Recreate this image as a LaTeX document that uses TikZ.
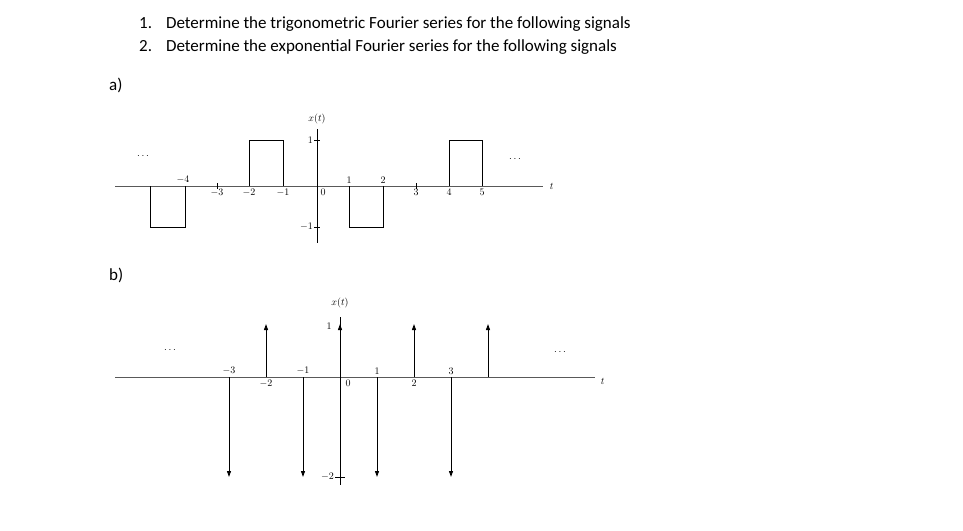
\documentclass[tikz,border=0pt]{standalone}
\usepackage{fontspec}
\setmainfont{Latin Modern Roman}
\newfontfamily\qfont{Carlito}
\usetikzlibrary{arrows.meta}
\begin{document}
\begin{tikzpicture}[x=1pt,y=-1pt,
  q/.style={font=\qfont\fontsize{17}{19}\selectfont,anchor=west,inner sep=0},
  lab/.style={font=\fontsize{10}{11}\selectfont,inner sep=1pt},
  ax/.style={line width=1pt,gray!70!black},
  sig/.style={line width=1pt},
  imp/.style={line width=1pt,-{Triangle[length=6pt,width=4pt]}}]
\useasboundingbox (0,0) rectangle (963,530);
\node[q] (n1) at (139,24) {1.\hspace{14pt}Determine the trigonometric Fourier series for the following signals};
\node[q] (n2) at (139,47) {2.\hspace{14pt}Determine the exponential Fourier series for the following signals};
\node[q] (pa) at (109,85) {a)};
\node[q] (pb) at (109,275) {b)};
% ---- part a
\begin{scope}[shift={(317,186)}]
\coordinate (aL) at (-202,0); \coordinate (aR) at (226,0);
\draw[ax] (aL) -- (aR);
\node[lab,font=\fontsize{10}{11}\selectfont\itshape] (at) at (234,0) {t};
\draw[line width=0.8pt] (0,-57) -- (0,57);
\node[lab] (ax) at (0,-67) {$x(t)$};
\draw (-3,-46) -- (3,-46); \node[lab,anchor=east] (a1) at (-3,-46) {1};
\draw (-3,41) -- (3,41); \node[lab,anchor=east] (am1) at (-3,41) {$-1$};
\draw[sig] (-167,0) -- (-167,41) -- (-132,41) -- (-132,0);
\draw[sig] (-68,0) -- (-68,-46) -- (-34,-46) -- (-34,0);
\draw[sig] (32,0) -- (32,41) -- (66,41) -- (66,0);
\draw[sig] (132,0) -- (132,-46) -- (165,-46) -- (165,0);
\draw (-100,-3) -- (-100,3); \draw (99,-3) -- (99,3);
\node[lab,anchor=south] (lm4) at (-134,-1) {$-4$};
\node[lab,anchor=south] (l1) at (32,-1) {1};
\node[lab,anchor=south] (l2) at (66,-1) {2};
\node[lab,anchor=north] (lm3) at (-100,2) {$-3$};
\node[lab,anchor=north] (lm2) at (-68,2) {$-2$};
\node[lab,anchor=north] (lm1) at (-34,2) {$-1$};
\node[lab,anchor=north] (l0) at (6,2) {0};
\node[lab,anchor=north] (l3) at (99,2) {3};
\node[lab,anchor=north] (l4) at (132,2) {4};
\node[lab,anchor=north] (l5) at (165,2) {5};
\node[lab] (d1) at (-174,-30) {$\cdots$};
\node[lab] (d2) at (198,-27) {$\cdots$};
\end{scope}
% ---- part b
\begin{scope}[shift={(340,377)}]
\coordinate (bL) at (-225,0); \coordinate (bR) at (255,0);
\draw[ax] (bL) -- (bR);
\node[lab,font=\fontsize{10}{11}\selectfont\itshape] (bt) at (262,4) {t};
\draw[line width=0.8pt] (0,-60) -- (0,108);
\node[lab] (bx) at (0,-74) {$x(t)$};
\node[lab] (b1) at (-11,-51) {1};
\draw (-5,100) -- (5,100); \node[lab,anchor=east] (bm2) at (-5,100) {$-2$};
\foreach \k in {-2,0,2,4} \draw[imp] (\k*37,0) -- (\k*37,-53);
\foreach \k in {-3,-1,1,3} \draw[imp] (\k*37,0) -- (\k*37,100);
\node[lab,anchor=south] (cm3) at (-111,-1) {$-3$};
\node[lab,anchor=south] (cm1) at (-37,-1) {$-1$};
\node[lab,anchor=south] (c1) at (37,-1) {1};
\node[lab,anchor=south] (c3) at (111,-1) {3};
\node[lab,anchor=north] (cm2) at (-74,2) {$-2$};
\node[lab,anchor=north] (c0) at (8,2) {0};
\node[lab,anchor=north] (c2) at (74,2) {2};
\node[lab] (e1) at (-170,-27) {$\cdots$};
\node[lab] (e2) at (220,-25) {$\cdots$};
\end{scope}
\end{tikzpicture}
\end{document}
